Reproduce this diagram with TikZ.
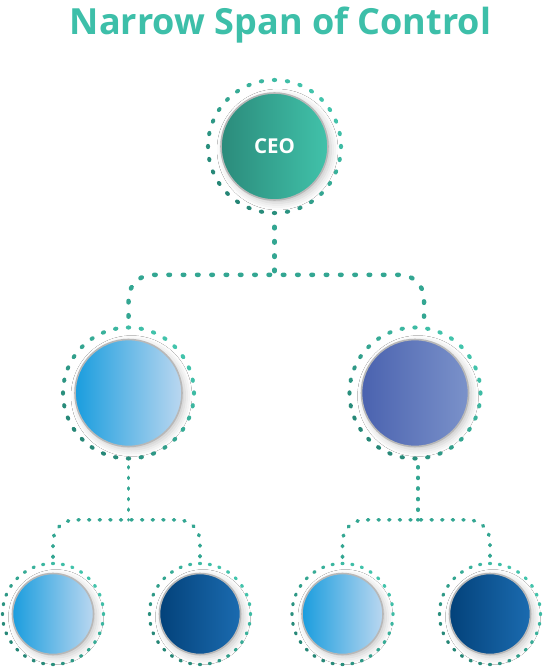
\documentclass[tikz,border=0pt]{standalone}
\usepackage{fontspec}
\setmainfont{Open Sans}
\usetikzlibrary{calc,shadows.blur}
\definecolor{titlecol}{HTML}{3DBFA9}
\definecolor{dotlight}{HTML}{42C4AC}
\definecolor{dotdark}{HTML}{268676}
\definecolor{conncol}{HTML}{33A692}
\definecolor{ceoL}{HTML}{2B8B7B}
\definecolor{ceoR}{HTML}{41C2AA}
\definecolor{skyL}{HTML}{1A9DDE}
\definecolor{skyR}{HTML}{BAD7F0}
\definecolor{indL}{HTML}{4A62AF}
\definecolor{indR}{HTML}{7B92CA}
\definecolor{navL}{HTML}{03427A}
\definecolor{navR}{HTML}{1B6BB0}
\newcommand\dotring[5]{%
  \foreach \i in {1,...,#3}{%
    \pgfmathsetmacro\ang{360*\i/#3}%
    \pgfmathtruncatemacro\mix{50+50*cos(\ang-45)}%
    \fill[dotlight!\mix!dotdark, shift={(#1)}, rotate=\ang] (#2,0) ellipse [x radius=#5, y radius=#4];
  }}
\tikzset{
  disc/.style={circle, inner sep=0pt, minimum size=#1, draw=black!28, line width=1.6pt,
    blur shadow={shadow xshift=3pt, shadow yshift=-3pt, shadow blur radius=7pt, shadow opacity=22}},
  ceofill/.style={shading=axis, left color=ceoL, right color=ceoR},
  skyfill/.style={shading=axis, left color=skyL, right color=skyR},
  indfill/.style={shading=axis, left color=indL, right color=indR},
  navfill/.style={shading=axis, left color=navL, right color=navR},
  connA/.style={draw=conncol, line width=4.5pt, line cap=round, dash pattern=on 1.5pt off 12.8pt, rounded corners=24pt},
  connB/.style={draw=conncol, line width=3.6pt, line cap=round, dash pattern=on 1pt off 9.6pt, rounded corners=22pt},
  titlestyle/.style={text=titlecol, font=\fontsize{36}{40}\selectfont\bfseries, anchor=base, inner sep=0pt},
  ceotext/.style={text=white, font=\fontsize{20.5}{23}\selectfont\bfseries}
}
\begin{document}
\begin{tikzpicture}[x=1pt,y=-1pt]
\fill[white] (0,0) rectangle (548,670);
\useasboundingbox (0,0) rectangle (548,670);

\node[titlestyle] (title) at (280.5,34) {Narrow Span of Control};

% circles
\node[disc=107pt, ceofill, ceotext] (ceo) at (274.5,146.5) {CEO};
\node[disc=107pt, skyfill] (m1) at (128.5,393) {};
\node[disc=107pt, indfill] (m2) at (415,393) {};
\node[disc=81pt, skyfill] (b1) at (53,614) {};
\node[disc=81pt, navfill] (b2) at (200,614) {};
\node[disc=81pt, skyfill] (b3) at (342.5,614) {};
\node[disc=81pt, navfill] (b4) at (490,614) {};

% dotted rings
\dotring{ceo}{66.5}{32}{2.7}{2.1}
\dotring{m1}{65.5}{32}{2.7}{2.1}
\dotring{m2}{65.5}{32}{2.7}{2.1}
\dotring{b1}{50.5}{32}{2}{1.7}
\dotring{b2}{50.5}{32}{2}{1.7}
\dotring{b3}{50.5}{32}{2}{1.7}
\dotring{b4}{50.5}{32}{2}{1.7}

% connectors
\coordinate (j1) at ($(ceo.south)+(0,74)$);
\draw[connA] ($(ceo.south)+(0,26)$) -- (j1);
\draw[connA] ($(m1.north)+(0,-22)$) |- (j1) -| ($(m2.north)+(9,-22)$);

\coordinate (j2) at ($(m1.south)+(0,72.5)$);
\draw[connB] ($(m1.south)+(0,19.5)$) -- (j2);
\draw[connB] ($(b1.north)+(0,-15.5)$) |- (j2) -| ($(b2.north)+(0,-15.5)$);

\coordinate (j3) at ($(m2.south)+(3,72.5)$);
\draw[connB] ($(m2.south)+(3,19.5)$) -- (j3);
\draw[connB] ($(b3.north)+(0,-15.5)$) |- (j3) -| ($(b4.north)+(0,-15.5)$);
\end{tikzpicture}
\end{document}
